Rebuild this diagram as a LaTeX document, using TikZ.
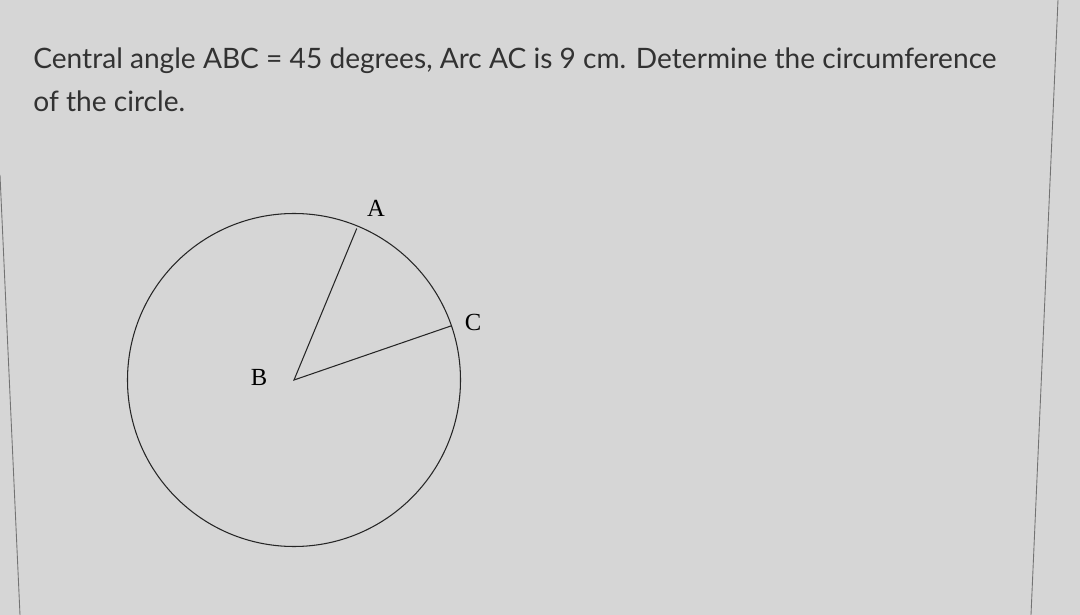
\documentclass[tikz,border=0pt]{standalone}
\usepackage{fontspec}
\setmainfont{Lato}
\newfontfamily\pointfont{Liberation Serif}
\usetikzlibrary{calc}

\definecolor{screen}{RGB}{214,214,214}
\definecolor{inktext}{RGB}{50,50,50}

\begin{document}
\begin{tikzpicture}[x=0.02cm, y=-0.02cm,
            % Styles
            question/.style={anchor=base west, inner sep=0pt, text=inktext, font=\fontsize{16}{16}\selectfont},
            pointlabel/.style={inner sep=0pt, font=\pointfont\fontsize{14}{14}\selectfont},
            radius line/.style={draw=black!85, line width=0.6pt},
            panel edge/.style={draw=black!55, line width=0.5pt}
        ]

        % Screen
        \fill[screen] (0,0) rectangle (1080,615);
        \useasboundingbox (0,0) rectangle (1080,615);
        \coordinate (edgeLT) at (0,175);
        \coordinate (edgeLB) at (20,615);
        \coordinate (edgeRT) at (1058,0);
        \coordinate (edgeRB) at (1031,615);
        \path [panel edge] (edgeLT) -- (edgeLB);
        \path [panel edge] (edgeRT) -- (edgeRB);

        % Question text
        \node [question] (line1) at (33,69) {Central angle ABC = 45 degrees, Arc AC is 9 cm. Determine the circumference};
        \node [question] (line2) at (33,112) {of the circle.};

        % Circle (y axis points down, so angles are negative)
        \coordinate (B) at (294,380);
        \draw [radius line] (B) circle [radius=166.5];
        \coordinate (A) at ($(B)+(-67.5:164)$);
        \coordinate (C) at ($(B)+(-19:166)$);

        % Radii
        \path [radius line] (A) -- (B) -- (C);

        % Labels
        \node [pointlabel] (labelA) at (376,208) {A};
        \node [pointlabel] (labelB) at (259,377) {B};
        \node [pointlabel] (labelC) at (473,322) {C};

    \end{tikzpicture}
\end{document}
